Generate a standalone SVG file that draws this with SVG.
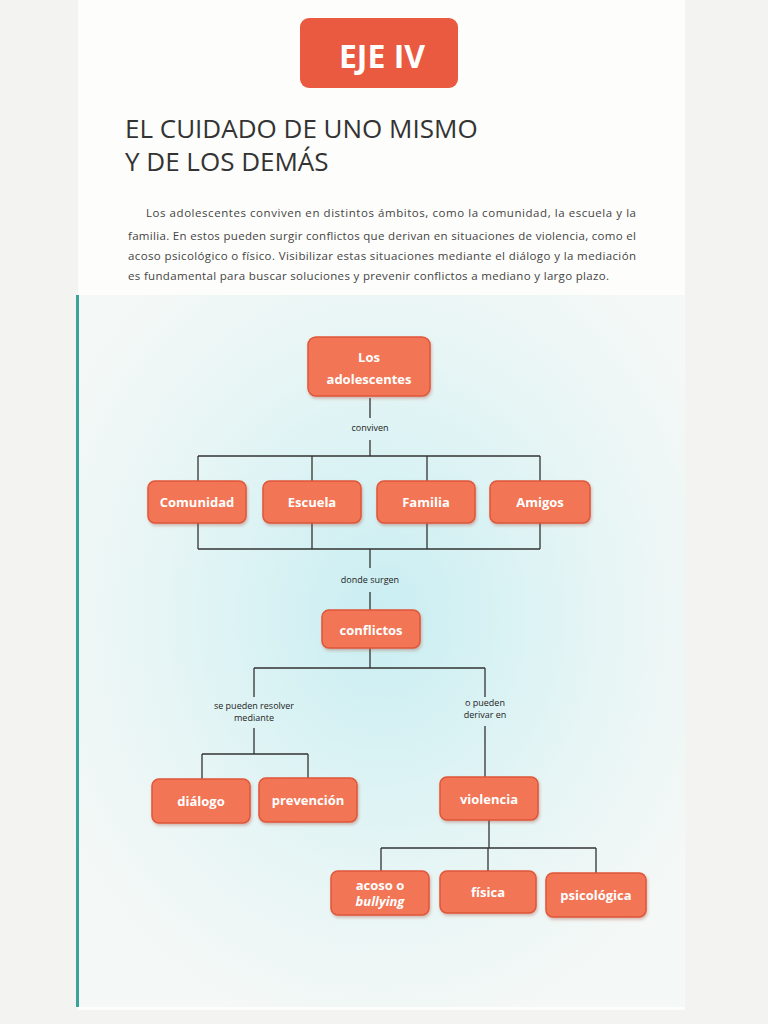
<svg xmlns="http://www.w3.org/2000/svg" width="768" height="1024" viewBox="0 0 768 1024">
<defs>
<radialGradient id="glow" cx="0.5" cy="0.45" r="0.6">
<stop offset="0" stop-color="#c9eef2"/><stop offset="0.6" stop-color="#e6f5f5"/><stop offset="1" stop-color="#f4f8f6"/>
</radialGradient>
<filter id="sh" x="-10%" y="-10%" width="130%" height="140%"><feDropShadow dx="1" dy="2" stdDeviation="1.5" flood-color="#a04030" flood-opacity="0.35"/></filter>
</defs>
<style>
.box{fill:#f27657;stroke:#df5638;stroke-width:1.5;filter:url(#sh)}
.bt{font-family:"Open Sans","Liberation Sans",sans-serif;font-weight:bold;font-size:13px;fill:#fff;text-anchor:middle}
.ln{stroke:#333;stroke-width:1.3;fill:none}
.lab{font-family:"Open Sans","Liberation Sans",sans-serif;font-size:9px;fill:#222;text-anchor:middle}
.para{font-family:"Open Sans","Liberation Sans",sans-serif;font-size:11.5px;fill:#444}
.title{font-family:"Open Sans","Liberation Sans",sans-serif;font-size:26px;fill:#333}
</style>
<rect width="768" height="1024" fill="#f3f3f1"/>
<rect x="78" y="0" width="607" height="1010" fill="#fdfdfb"/>
<rect x="78" y="295" width="607" height="712" fill="url(#glow)"/>
<rect x="76" y="295" width="3" height="712" fill="#3aa39a"/>
<g id="eje"><rect x="300" y="18" width="158" height="70" rx="9" fill="#ea5a40"/>
<text x="382" y="68" font-family="Open Sans,Liberation Sans,sans-serif" font-size="32" font-weight="bold" fill="#fff" text-anchor="middle">EJE IV</text></g>
<text class="title" x="125" y="138">EL CUIDADO DE UNO MISMO</text>
<text class="title" x="125" y="171">Y DE LOS DEMÁS</text>
<g class="para">
<text x="146" y="217" textLength="490" lengthAdjust="spacing">Los adolescentes conviven en distintos ámbitos, como la comunidad, la escuela y la</text>
<text x="128" y="240" textLength="508" lengthAdjust="spacing">familia. En estos pueden surgir conflictos que derivan en situaciones de violencia, como el</text>
<text x="128" y="260" textLength="508" lengthAdjust="spacing">acoso psicológico o físico. Visibilizar estas situaciones mediante el diálogo y la mediación</text>
<text x="128" y="280" textLength="481" lengthAdjust="spacing">es fundamental para buscar soluciones y prevenir conflictos a mediano y largo plazo.</text>
</g>
<g id="connectors">
<path class="ln" d="M370 398V418M370 440V456M198 456H540M198 456V481M312 456V481M427 456V481M540 456V481"/>
<path class="ln" d="M198 523V549M312 523V549M427 523V549M540 523V549M198 549H540M370 549V568M370 592V610"/>
<path class="ln" d="M370 648V668M254 668H485M254 668V697M485 668V697"/>
<path class="ln" d="M254 728V754M202 754H308M202 754V779M308 754V778"/>
<path class="ln" d="M485 726V777M489 820V848M381 848H596M381 848V871M488 848V871M596 848V873"/>
<text class="lab" x="370" y="431">conviven</text>
<text class="lab" x="370" y="583">donde surgen</text>
<text class="lab" x="254" y="709">se pueden resolver</text>
<text class="lab" x="254" y="721">mediante</text>
<text class="lab" x="485" y="706">o pueden</text>
<text class="lab" x="485" y="718">derivar en</text>
</g>
<g id="adolescentes"><rect class="box" x="308" y="337" width="122" height="59" rx="8"/>
<text class="bt" x="369" y="362" font-size="16">Los</text><text class="bt" x="369" y="384" font-size="16">adolescentes</text></g>
<g id="comunidad"><rect class="box" x="148" y="481" width="98" height="42" rx="7"/><text class="bt" x="197" y="507">Comunidad</text></g>
<g id="escuela"><rect class="box" x="263" y="481" width="98" height="42" rx="7"/><text class="bt" x="312" y="507">Escuela</text></g>
<g id="familia"><rect class="box" x="377" y="481" width="98" height="42" rx="7"/><text class="bt" x="426" y="507">Familia</text></g>
<g id="amigos"><rect class="box" x="490" y="481" width="100" height="42" rx="7"/><text class="bt" x="540" y="507">Amigos</text></g>
<g id="conflictos"><rect class="box" x="322" y="610" width="98" height="38" rx="7"/><text class="bt" x="371" y="635" font-size="16">conflictos</text></g>
<g id="dialogo"><rect class="box" x="152" y="779" width="98" height="44" rx="7"/><text class="bt" x="201" y="806">diálogo</text></g>
<g id="prevencion"><rect class="box" x="259" y="778" width="98" height="44" rx="7"/><text class="bt" x="308" y="805">prevención</text></g>
<g id="violencia"><rect class="box" x="440" y="777" width="98" height="43" rx="7"/><text class="bt" x="489" y="804">violencia</text></g>
<g id="acoso"><rect class="box" x="331" y="871" width="98" height="44" rx="7"/><text class="bt" x="380" y="890" font-size="12">acoso o</text><text class="bt" x="380" y="906" font-size="12" font-style="italic">bullying</text></g>
<g id="fisica"><rect class="box" x="440" y="871" width="96" height="42" rx="7"/><text class="bt" x="488" y="897">física</text></g>
<g id="psicologica"><rect class="box" x="546" y="873" width="100" height="44" rx="7"/><text class="bt" x="596" y="900">psicológica</text></g>
</svg>
